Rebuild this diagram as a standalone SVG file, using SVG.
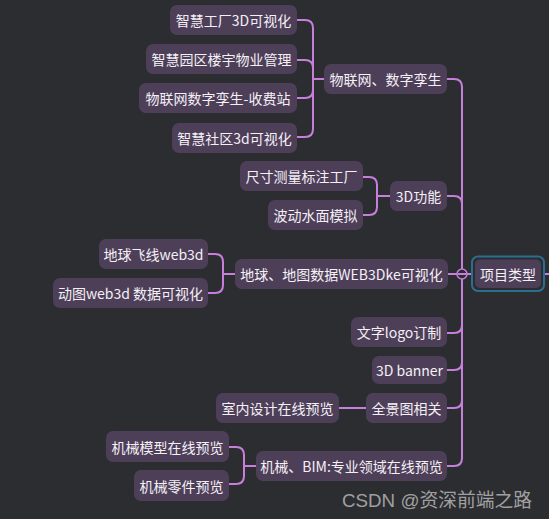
<svg xmlns="http://www.w3.org/2000/svg" width="549" height="519" viewBox="0 0 549 519">
<style>
.bg{fill:#2c2d31}
.n rect{fill:#4e3f59}
.n text{fill:#f4f0f6;font-family:"Noto Sans CJK SC","Liberation Sans",sans-serif;font-size:14px;text-anchor:middle;dominant-baseline:central}
.c path{fill:none;stroke:#c77fdc;stroke-width:2}
.wm{fill:#a0a0a0;font-family:"Liberation Sans","Noto Sans CJK SC",sans-serif;font-size:19px}
</style>
<rect class="bg" width="549" height="519"/>
<g id="connectors" class="c">
<path d="M297,20 H305 Q313,20 313,28 V79 H324"/>
<path d="M297,60 H305 Q313,60 313,68 V79"/>
<path d="M297,98 H305 Q313,98 313,90 V79"/>
<path d="M297,137 H305 Q313,137 313,129 V79"/>
<path d="M363,177 H369 Q377,177 377,185 V196 H390"/>
<path d="M363,215 H369 Q377,215 377,207 V196"/>
<path d="M208,254 H215 Q223,254 223,262 V274 H235"/>
<path d="M208,293 H215 Q223,293 223,285 V274"/>
<path d="M339,408 H366"/>
<path d="M229,447 H236 Q244,447 244,455 V466 H256"/>
<path d="M229,484 H236 Q244,484 244,476 V466"/>
<path d="M447,79 H454 Q462,79 462,87 V269"/>
<path d="M447,196 H454 Q462,196 462,204 V269"/>
<path d="M448,274 H457"/>
<path d="M447,333 H454 Q462,333 462,325 V279"/>
<path d="M447,370 H454 Q462,370 462,362 V279"/>
<path d="M447,408 H454 Q462,408 462,400 V279"/>
<path d="M447,466 H454 Q462,466 462,458 V279"/>
<path d="M467,274 H472"/>
<path d="M544,274 H549"/>
<circle cx="462" cy="274" r="5" fill="#2c2d31" stroke="#c77fdc" stroke-width="1.5"/>
<path d="M458,274 H466" stroke-width="1.5"/>
</g>
<g id="root" class="n">
<rect x="472" y="256.5" width="72" height="34.5" rx="6" style="fill:none" stroke="#2b6f90" stroke-width="2"/>
<rect x="475" y="259.5" width="66" height="28.5" rx="5"/>
<text x="508" y="274">项目类型</text>
</g>
<g id="n-iot" class="n"><rect x="324" y="64" width="123" height="30" rx="7"/><text x="385.5" y="79">物联网、数字孪生</text></g>
<g id="n-iot-1" class="n"><rect x="170" y="5" width="127" height="30" rx="7"/><text x="233.5" y="20">智慧工厂3D可视化</text></g>
<g id="n-iot-2" class="n"><rect x="146" y="44" width="151" height="30" rx="7"/><text x="221.5" y="59">智慧园区楼宇物业管理</text></g>
<g id="n-iot-3" class="n"><rect x="139" y="83" width="158" height="30" rx="7"/><text x="218" y="98">物联网数字孪生-收费站</text></g>
<g id="n-iot-4" class="n"><rect x="172" y="123" width="125" height="30" rx="7"/><text x="234.5" y="138">智慧社区3d可视化</text></g>
<g id="n-3d" class="n"><rect x="390" y="181" width="57" height="30" rx="7"/><text x="418.5" y="196">3D功能</text></g>
<g id="n-3d-1" class="n"><rect x="240" y="161" width="123" height="30" rx="7"/><text x="301.5" y="176">尺寸测量标注工厂</text></g>
<g id="n-3d-2" class="n"><rect x="268" y="200" width="95" height="30" rx="7"/><text x="315.5" y="215">波动水面模拟</text></g>
<g id="n-globe" class="n"><rect x="235" y="259" width="213" height="30" rx="7"/><text x="341.5" y="274">地球、地图数据WEB3Dke可视化</text></g>
<g id="n-globe-1" class="n"><rect x="99" y="239" width="109" height="30" rx="7"/><text x="153.5" y="254">地球飞线web3d</text></g>
<g id="n-globe-2" class="n"><rect x="53" y="278" width="155" height="30" rx="7"/><text x="130.5" y="293">动图web3d 数据可视化</text></g>
<g id="n-logo" class="n"><rect x="351" y="317" width="96" height="30" rx="7"/><text x="399" y="332">文字logo订制</text></g>
<g id="n-banner" class="n"><rect x="372" y="356" width="75" height="28" rx="7"/><text x="409.5" y="370">3D banner</text></g>
<g id="n-pano" class="n"><rect x="366" y="393" width="81" height="30" rx="7"/><text x="406.5" y="408">全景图相关</text></g>
<g id="n-pano-1" class="n"><rect x="216" y="393" width="123" height="30" rx="7"/><text x="277.5" y="408">室内设计在线预览</text></g>
<g id="n-mech" class="n"><rect x="256" y="451" width="191" height="30" rx="7"/><text x="351.5" y="466">机械、BIM:专业领域在线预览</text></g>
<g id="n-mech-1" class="n"><rect x="106" y="431" width="123" height="31" rx="7"/><text x="167.5" y="446.5">机械模型在线预览</text></g>
<g id="n-mech-2" class="n"><rect x="134" y="470" width="95" height="31" rx="7"/><text x="181.5" y="485.5">机械零件预览</text></g>
<text class="wm" x="342" y="507" textLength="190" lengthAdjust="spacingAndGlyphs">CSDN @资深前端之路</text>
</svg>
